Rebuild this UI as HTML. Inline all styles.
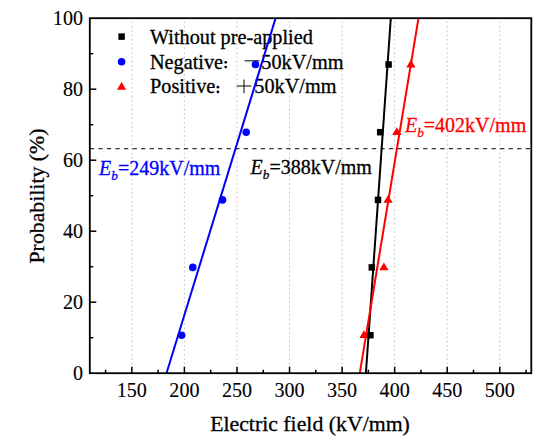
<!DOCTYPE html><html><head><meta charset="utf-8"><title>Breakdown probability chart</title><style>html,body{margin:0;padding:0;background:#fff;}svg{display:block;}text{font-family:"Liberation Serif",serif;stroke:currentColor;stroke-width:0.3px;}</style></head><body>
<svg width="550" height="448" viewBox="0 0 550 448">
<rect x="0" y="0" width="550" height="448" fill="#fff"/>
<defs><clipPath id="c"><rect x="89.8" y="18.2" width="441.50" height="355.00"/></clipPath></defs>
<line x1="131.85" y1="18.20" x2="131.85" y2="373.20" stroke="#bdbdbd" stroke-width="0.9" stroke-dasharray="1.7 2.6745" stroke-dashoffset="1.2"/>
<line x1="184.41" y1="18.20" x2="184.41" y2="373.20" stroke="#bdbdbd" stroke-width="0.9" stroke-dasharray="1.7 2.6745" stroke-dashoffset="1.2"/>
<line x1="236.97" y1="18.20" x2="236.97" y2="373.20" stroke="#bdbdbd" stroke-width="0.9" stroke-dasharray="1.7 2.6745" stroke-dashoffset="1.2"/>
<line x1="289.53" y1="18.20" x2="289.53" y2="373.20" stroke="#bdbdbd" stroke-width="0.9" stroke-dasharray="1.7 2.6745" stroke-dashoffset="1.2"/>
<line x1="342.09" y1="18.20" x2="342.09" y2="373.20" stroke="#bdbdbd" stroke-width="0.9" stroke-dasharray="1.7 2.6745" stroke-dashoffset="1.2"/>
<line x1="394.65" y1="18.20" x2="394.65" y2="373.20" stroke="#bdbdbd" stroke-width="0.9" stroke-dasharray="1.7 2.6745" stroke-dashoffset="1.2"/>
<line x1="447.20" y1="18.20" x2="447.20" y2="373.20" stroke="#bdbdbd" stroke-width="0.9" stroke-dasharray="1.7 2.6745" stroke-dashoffset="1.2"/>
<line x1="499.76" y1="18.20" x2="499.76" y2="373.20" stroke="#bdbdbd" stroke-width="0.9" stroke-dasharray="1.7 2.6745" stroke-dashoffset="1.2"/>
<line x1="89.80" y1="148.6" x2="531.30" y2="148.6" stroke="#333" stroke-width="1.4" stroke-dasharray="4.3 4.247"/>
<text x="83" y="379.80" font-size="20.1" style="stroke-width:0.12px" text-anchor="end">0</text>
<text x="83" y="308.80" font-size="20.1" style="stroke-width:0.12px" text-anchor="end">20</text>
<text x="83" y="237.80" font-size="20.1" style="stroke-width:0.12px" text-anchor="end">40</text>
<text x="83" y="166.80" font-size="20.1" style="stroke-width:0.12px" text-anchor="end">60</text>
<text x="83" y="95.80" font-size="20.1" style="stroke-width:0.12px" text-anchor="end">80</text>
<text x="83" y="24.80" font-size="20.1" style="stroke-width:0.12px" text-anchor="end">100</text>
<text x="131.85" y="396.8" font-size="20.1" style="stroke-width:0.12px" text-anchor="middle">150</text>
<text x="184.41" y="396.8" font-size="20.1" style="stroke-width:0.12px" text-anchor="middle">200</text>
<text x="236.97" y="396.8" font-size="20.1" style="stroke-width:0.12px" text-anchor="middle">250</text>
<text x="289.53" y="396.8" font-size="20.1" style="stroke-width:0.12px" text-anchor="middle">300</text>
<text x="342.09" y="396.8" font-size="20.1" style="stroke-width:0.12px" text-anchor="middle">350</text>
<text x="394.65" y="396.8" font-size="20.1" style="stroke-width:0.12px" text-anchor="middle">400</text>
<text x="447.20" y="396.8" font-size="20.1" style="stroke-width:0.12px" text-anchor="middle">450</text>
<text x="499.76" y="396.8" font-size="20.1" style="stroke-width:0.12px" text-anchor="middle">500</text>
<text x="310" y="431.2" font-size="21.8" text-anchor="middle">Electric field (kV/mm)</text>
<text transform="translate(43.7,196) rotate(-90)" x="0" y="0" font-size="21.8" text-anchor="middle">Probability (%)</text>
<rect x="118.35" y="33.35" width="6.5" height="6.5" fill="#000"/>
<circle cx="121.6" cy="61.7" r="3.8" fill="#0000ff"/>
<polygon points="121.60,81.90 117.00,89.70 126.20,89.70" fill="#ff0000"/>
<text x="150" y="43.5" font-size="20.25">Without pre-applied</text>
<text x="150" y="68.5" font-size="20.25">Negative</text>
<text x="150" y="93.4" font-size="20.25">Positive</text>
<circle cx="225.70" cy="62.30" r="1.35" fill="#000"/>
<circle cx="225.70" cy="67.00" r="1.35" fill="#000"/>
<circle cx="217.90" cy="87.20" r="1.35" fill="#000"/>
<circle cx="217.90" cy="91.90" r="1.35" fill="#000"/>
<line x1="244.5" y1="60.8" x2="259.5" y2="60.8" stroke="#222" stroke-width="1.15"/>
<line x1="236.6" y1="86" x2="251.3" y2="86" stroke="#222" stroke-width="1.15"/>
<line x1="244" y1="79.6" x2="244" y2="93.3" stroke="#222" stroke-width="1.15"/>
<text x="261.3" y="68.5" font-size="20.25">50kV/mm</text>
<text x="254.3" y="93.4" font-size="20.25">50kV/mm</text>
<text x="99.1" y="175.0" font-size="20" fill="#0000ff" style="color:#0000ff"><tspan font-style="italic">E</tspan><tspan font-style="italic" font-size="13.2" dy="5.3">b</tspan><tspan dy="-5.3">=249kV/mm</tspan></text>
<text x="250.6" y="174.0" font-size="20" fill="#000" style="color:#000"><tspan font-style="italic">E</tspan><tspan font-style="italic" font-size="13.2" dy="5.3">b</tspan><tspan dy="-5.3">=388kV/mm</tspan></text>
<text x="405.0" y="131.7" font-size="20" fill="#ff0000" style="color:#ff0000"><tspan font-style="italic">E</tspan><tspan font-style="italic" font-size="13.2" dy="5.3">b</tspan><tspan dy="-5.3">=402kV/mm</tspan></text>
<rect x="367.15" y="331.95" width="6.5" height="6.5" fill="#000"/>
<rect x="368.55" y="264.15" width="6.5" height="6.5" fill="#000"/>
<rect x="374.75" y="196.65" width="6.5" height="6.5" fill="#000"/>
<rect x="376.95" y="128.95" width="6.5" height="6.5" fill="#000"/>
<rect x="385.35" y="61.25" width="6.5" height="6.5" fill="#000"/>
<circle cx="181.6" cy="335.2" r="3.8" fill="#0000ff"/>
<circle cx="192.8" cy="267.4" r="3.8" fill="#0000ff"/>
<circle cx="222.5" cy="199.9" r="3.8" fill="#0000ff"/>
<circle cx="246.2" cy="132.2" r="3.8" fill="#0000ff"/>
<circle cx="255.5" cy="64.5" r="3.8" fill="#0000ff"/>
<polygon points="364.00,330.30 359.40,338.10 368.60,338.10" fill="#ff0000"/>
<polygon points="383.90,262.50 379.30,270.30 388.50,270.30" fill="#ff0000"/>
<polygon points="388.10,195.00 383.50,202.80 392.70,202.80" fill="#ff0000"/>
<polygon points="396.80,127.30 392.20,135.10 401.40,135.10" fill="#ff0000"/>
<polygon points="410.90,59.60 406.30,67.40 415.50,67.40" fill="#ff0000"/>
<g clip-path="url(#c)">
<line x1="166.5" y1="373.2" x2="275.6" y2="18.2" stroke="#0000ff" stroke-width="2.0"/>
<line x1="365.9" y1="373.2" x2="390.8" y2="18.2" stroke="#000" stroke-width="2.0"/>
<line x1="359.8" y1="373.2" x2="418.5" y2="18.2" stroke="#ff0000" stroke-width="2.0"/>
</g>
<rect x="89.8" y="18.2" width="441.50" height="355.00" fill="none" stroke="#000" stroke-width="1.8"/>
<line x1="131.85" y1="373.2" x2="131.85" y2="366.7" stroke="#000" stroke-width="1.5"/>
<line x1="184.41" y1="373.2" x2="184.41" y2="366.7" stroke="#000" stroke-width="1.5"/>
<line x1="236.97" y1="373.2" x2="236.97" y2="366.7" stroke="#000" stroke-width="1.5"/>
<line x1="289.53" y1="373.2" x2="289.53" y2="366.7" stroke="#000" stroke-width="1.5"/>
<line x1="342.09" y1="373.2" x2="342.09" y2="366.7" stroke="#000" stroke-width="1.5"/>
<line x1="394.65" y1="373.2" x2="394.65" y2="366.7" stroke="#000" stroke-width="1.5"/>
<line x1="447.20" y1="373.2" x2="447.20" y2="366.7" stroke="#000" stroke-width="1.5"/>
<line x1="499.76" y1="373.2" x2="499.76" y2="366.7" stroke="#000" stroke-width="1.5"/>
<line x1="105.57" y1="373.2" x2="105.57" y2="369.7" stroke="#000" stroke-width="1.5"/>
<line x1="158.13" y1="373.2" x2="158.13" y2="369.7" stroke="#000" stroke-width="1.5"/>
<line x1="210.69" y1="373.2" x2="210.69" y2="369.7" stroke="#000" stroke-width="1.5"/>
<line x1="263.25" y1="373.2" x2="263.25" y2="369.7" stroke="#000" stroke-width="1.5"/>
<line x1="315.81" y1="373.2" x2="315.81" y2="369.7" stroke="#000" stroke-width="1.5"/>
<line x1="368.37" y1="373.2" x2="368.37" y2="369.7" stroke="#000" stroke-width="1.5"/>
<line x1="420.92" y1="373.2" x2="420.92" y2="369.7" stroke="#000" stroke-width="1.5"/>
<line x1="473.48" y1="373.2" x2="473.48" y2="369.7" stroke="#000" stroke-width="1.5"/>
<line x1="526.04" y1="373.2" x2="526.04" y2="369.7" stroke="#000" stroke-width="1.5"/>
<line x1="89.8" y1="302.20" x2="96.3" y2="302.20" stroke="#000" stroke-width="1.5"/>
<line x1="89.8" y1="231.20" x2="96.3" y2="231.20" stroke="#000" stroke-width="1.5"/>
<line x1="89.8" y1="160.20" x2="96.3" y2="160.20" stroke="#000" stroke-width="1.5"/>
<line x1="89.8" y1="89.20" x2="96.3" y2="89.20" stroke="#000" stroke-width="1.5"/>
<line x1="89.8" y1="337.70" x2="93.3" y2="337.70" stroke="#000" stroke-width="1.5"/>
<line x1="89.8" y1="266.70" x2="93.3" y2="266.70" stroke="#000" stroke-width="1.5"/>
<line x1="89.8" y1="195.70" x2="93.3" y2="195.70" stroke="#000" stroke-width="1.5"/>
<line x1="89.8" y1="124.70" x2="93.3" y2="124.70" stroke="#000" stroke-width="1.5"/>
<line x1="89.8" y1="53.70" x2="93.3" y2="53.70" stroke="#000" stroke-width="1.5"/>
</svg></body></html>
